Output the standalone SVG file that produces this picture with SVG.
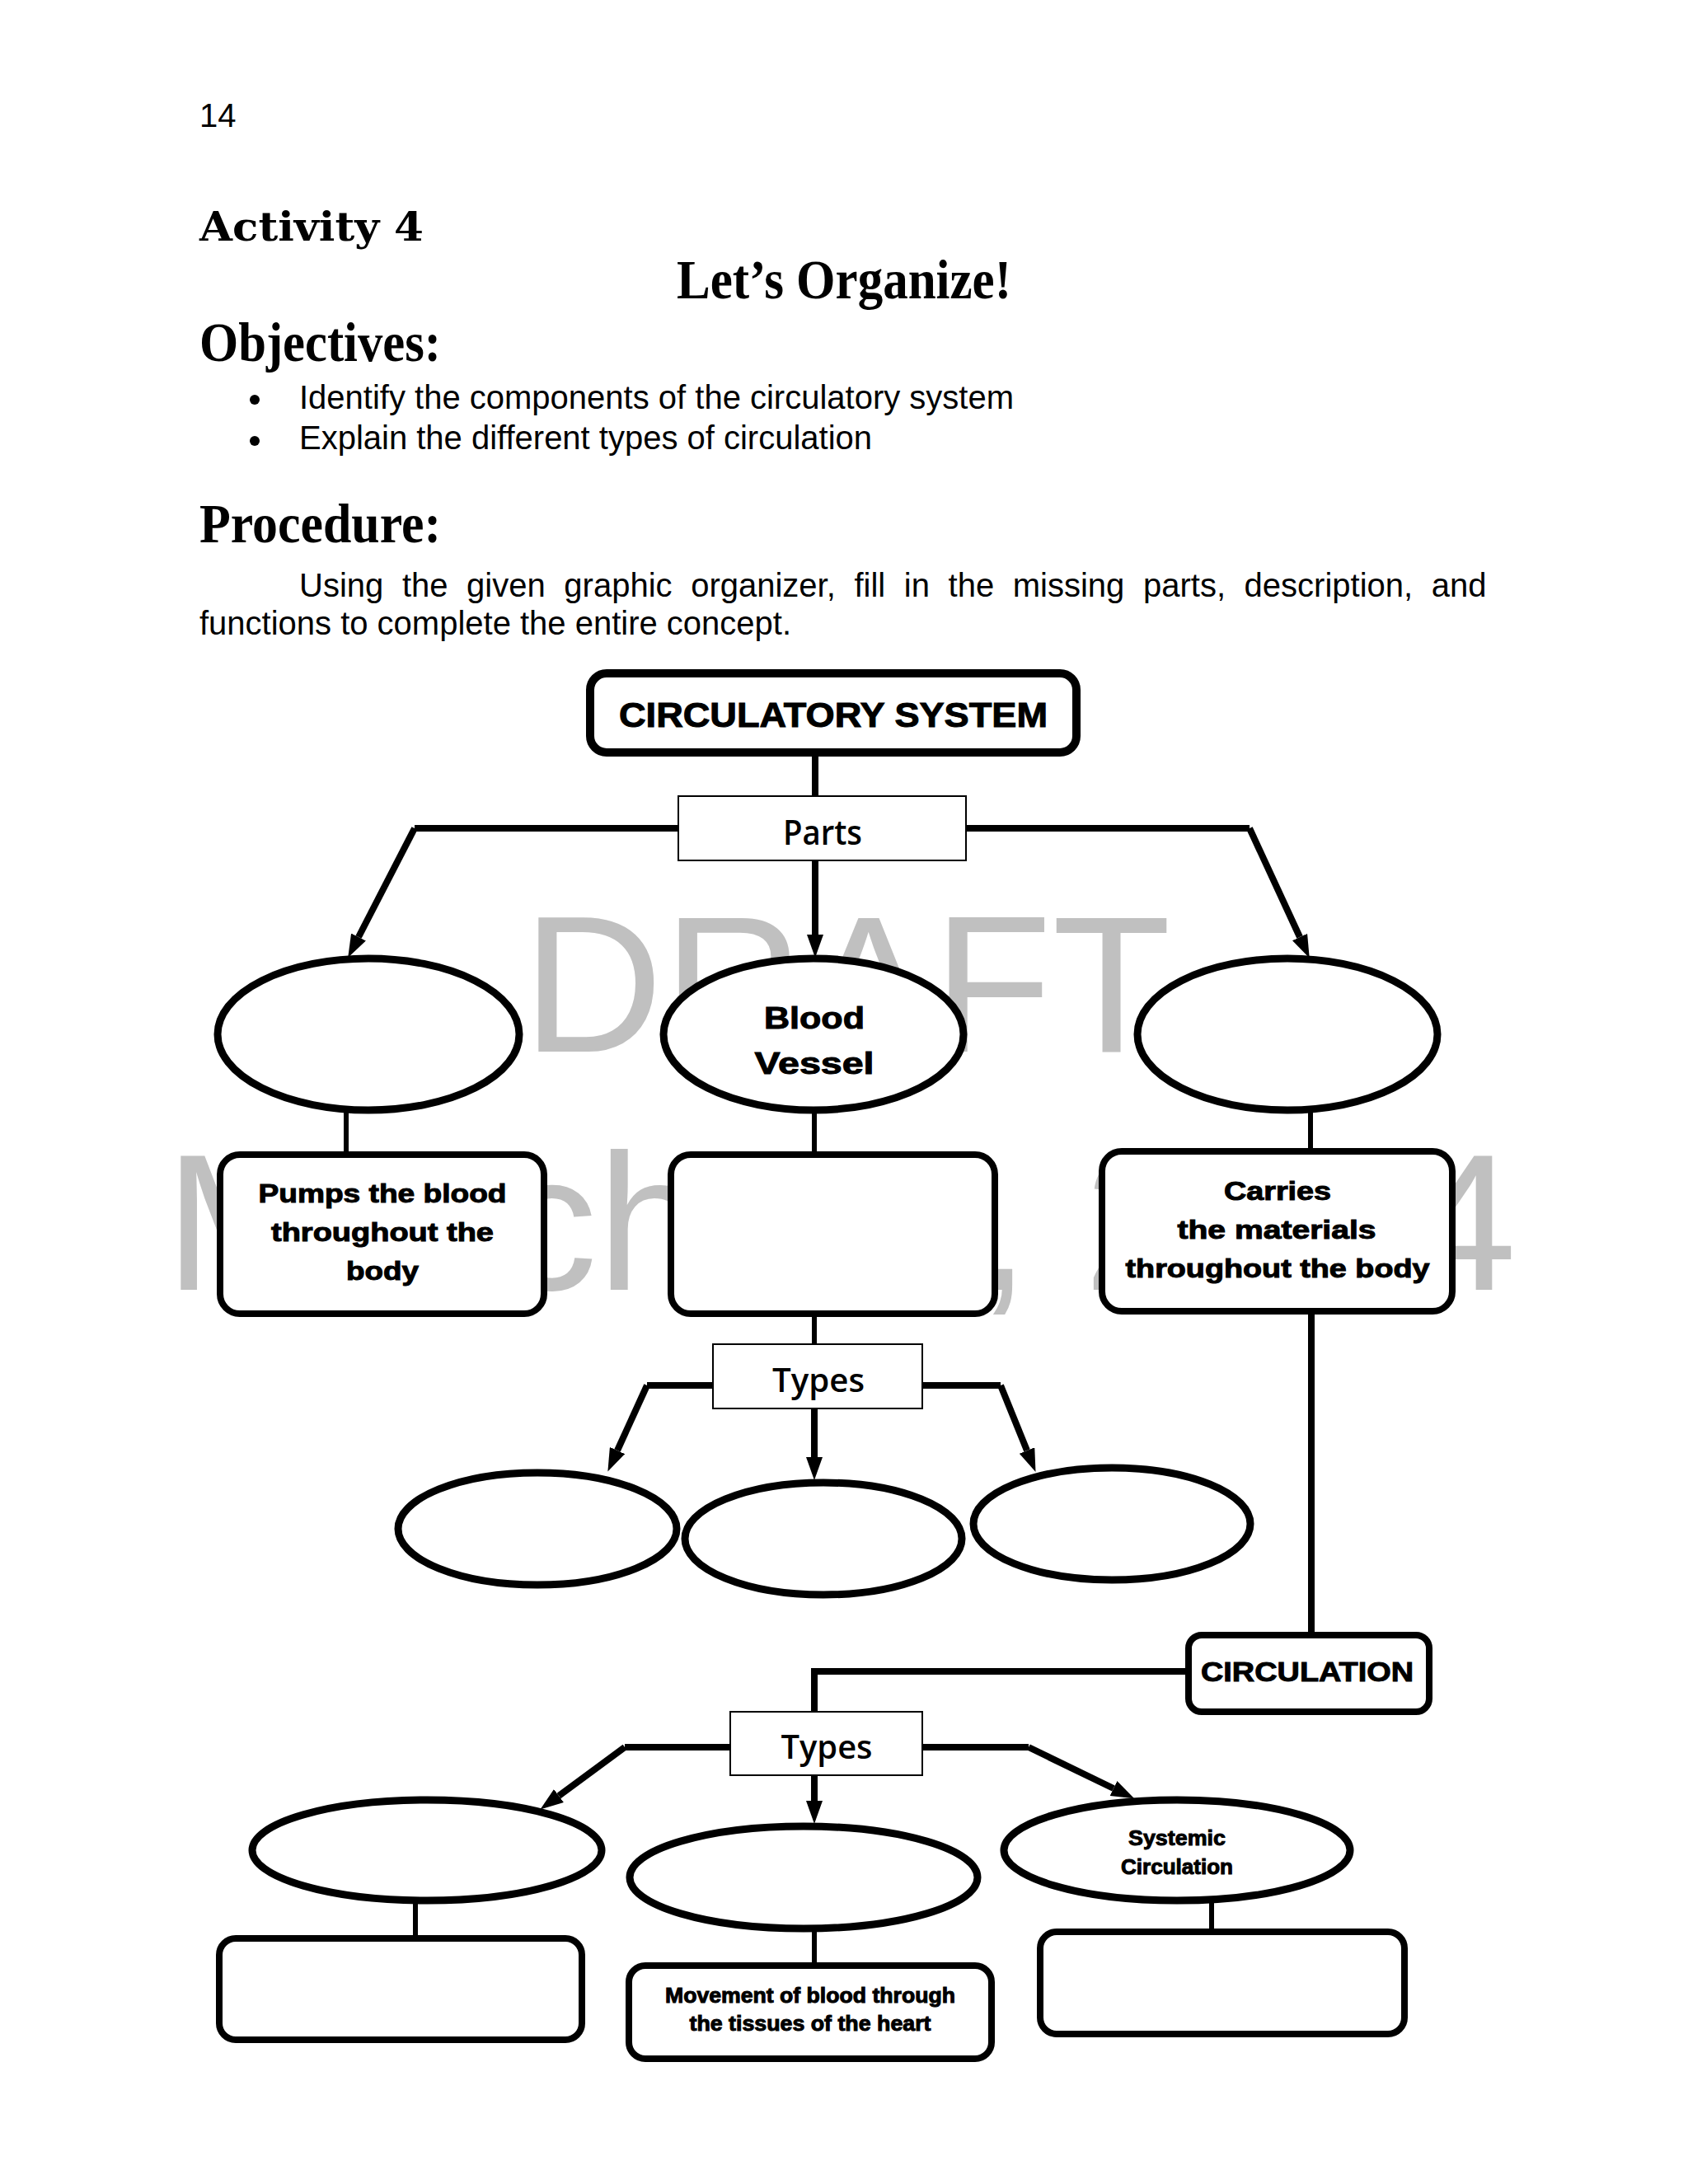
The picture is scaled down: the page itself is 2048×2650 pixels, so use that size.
<svg xmlns="http://www.w3.org/2000/svg" width="2048" height="2650" viewBox="0 0 2048 2650">
<defs>
<style>
.body{font-family:"Liberation Sans",Arial,sans-serif;font-size:40px;fill:#000}
.head{font-family:"Liberation Serif","Times New Roman",serif;font-weight:bold;font-size:68px;fill:#000}
.act{font-family:"DejaVu Serif",serif;font-weight:bold;font-size:48px;fill:#000}
.wm{font-family:"Liberation Sans",Arial,sans-serif;font-size:236px;fill:#c0c0c0}
.lbl{font-family:"Open Sans","Liberation Sans",sans-serif;font-weight:600;fill:#000;text-anchor:middle}
.blk{font-family:"Liberation Sans",Arial,sans-serif;font-weight:bold;fill:#000;text-anchor:middle;stroke:#000;stroke-width:1}
.thick{fill:#fff;stroke:#000;stroke-width:8}
.ell{fill:#fff;stroke:#000;stroke-width:9}
.thin{fill:#fff;stroke:#000;stroke-width:2}
.con{fill:none;stroke:#000;stroke-width:8}
.con2{fill:none;stroke:#000;stroke-width:6}
</style>
<marker id="ah" viewBox="0 0 28 20" refX="0" refY="10" markerWidth="28" markerHeight="20" markerUnits="userSpaceOnUse" orient="auto">
<path d="M0,0 L28,10 L0,20 Z" fill="#000"/>
</marker>
</defs>
<rect width="2048" height="2650" fill="#fff"/>

<g id="page-text">
<text class="body" x="242" y="154" font-size="30">14</text>
<text class="act" x="242" y="292" textLength="272" lengthAdjust="spacingAndGlyphs">Activity 4</text>
<text class="head" x="821" y="362" textLength="406" lengthAdjust="spacingAndGlyphs">Let’s Organize!</text>
<text class="head" x="242" y="438" textLength="293" lengthAdjust="spacingAndGlyphs">Objectives:</text>
<circle cx="309" cy="485" r="6" fill="#000"/>
<circle cx="309" cy="535" r="6" fill="#000"/>
<text class="body" x="363" y="496" textLength="867" lengthAdjust="spacing">Identify the components of the circulatory system</text>
<text class="body" x="363" y="545" textLength="695" lengthAdjust="spacing">Explain the different types of circulation</text>
<text class="head" x="242" y="658" textLength="293" lengthAdjust="spacingAndGlyphs">Procedure:</text>
<text class="body" x="363" y="724" word-spacing="11.5">Using the given graphic organizer, fill in the missing parts, description, and</text>
<text class="body" x="242" y="770" textLength="718" lengthAdjust="spacing">functions to complete the entire concept.</text>
</g>

<g id="watermark">
<text class="wm" x="634" y="1276">DRAFT</text>
<text class="wm" x="200" y="1565">March 24, 2024</text>
</g>

<g id="connectors">
<line class="con" x1="989" y1="918" x2="989" y2="966"/>
<line class="con" x1="503" y1="1005" x2="823" y2="1005"/>
<line class="con" x1="1172" y1="1005" x2="1516" y2="1005"/>
<line class="con" x1="503" y1="1005" x2="435" y2="1137" marker-end="url(#ah)"/>
<line class="con" x1="1516" y1="1005" x2="1577" y2="1137" marker-end="url(#ah)"/>
<line class="con" x1="989" y1="1045" x2="989" y2="1134" marker-end="url(#ah)"/>
<line class="con2" x1="420" y1="1346" x2="420" y2="1398"/>
<line class="con2" x1="988" y1="1346" x2="988" y2="1398"/>
<line class="con2" x1="1590" y1="1346" x2="1590" y2="1394"/>
<line class="con2" x1="988" y1="1596" x2="988" y2="1631"/>
<line class="con" x1="785" y1="1681" x2="865" y2="1681"/>
<line class="con" x1="1119" y1="1681" x2="1214" y2="1681"/>
<line class="con" x1="785" y1="1681" x2="749" y2="1760" marker-end="url(#ah)"/>
<line class="con" x1="1214" y1="1681" x2="1246" y2="1760" marker-end="url(#ah)"/>
<line class="con" x1="988" y1="1709" x2="988" y2="1768" marker-end="url(#ah)"/>
<line class="con" x1="1591" y1="1594" x2="1591" y2="1982"/>
<polyline class="con" points="1440,2028 988,2028 988,2077"/>
<line class="con" x1="758" y1="2120" x2="886" y2="2120"/>
<line class="con" x1="1119" y1="2120" x2="1248" y2="2120"/>
<line class="con" x1="758" y1="2120" x2="678" y2="2179" marker-end="url(#ah)"/>
<line class="con" x1="1248" y1="2120" x2="1351" y2="2170" marker-end="url(#ah)"/>
<line class="con" x1="988" y1="2154" x2="988" y2="2185" marker-end="url(#ah)"/>
<line class="con2" x1="504" y1="2307" x2="504" y2="2350"/>
<line class="con2" x1="988" y1="2341" x2="988" y2="2382"/>
<line class="con2" x1="1470" y1="2307" x2="1470" y2="2342"/>
</g>

<g id="circulatory-system">
<rect x="716" y="817" width="590" height="96" rx="20" fill="#fff" stroke="#000" stroke-width="10"/>
<text class="blk" x="1011" y="882" font-size="42" stroke-width="1.6" textLength="520" lengthAdjust="spacingAndGlyphs">CIRCULATORY SYSTEM</text>
</g>
<g id="parts">
<rect class="thin" x="823" y="966" width="349" height="78"/>
<text class="lbl" x="998" y="1025" font-size="41" textLength="96" lengthAdjust="spacingAndGlyphs">Parts</text>
</g>
<g id="heart-oval"><ellipse class="ell" cx="447" cy="1255" rx="183" ry="92"/></g>
<g id="blood-vessel">
<ellipse class="ell" cx="987" cy="1255" rx="182" ry="92"/>
<text class="blk" x="988" y="1248" font-size="37" stroke-width="1.3" textLength="122" lengthAdjust="spacingAndGlyphs">Blood</text>
<text class="blk" x="988" y="1303" font-size="37" stroke-width="1.3" textLength="145" lengthAdjust="spacingAndGlyphs">Vessel</text>
</g>
<g id="blood-oval"><ellipse class="ell" cx="1562" cy="1255" rx="182" ry="92"/></g>
<g id="pumps-box">
<rect class="thick" x="267" y="1401" width="393" height="193" rx="24"/>
<text class="blk" x="464" y="1459" font-size="31" textLength="301" lengthAdjust="spacingAndGlyphs">Pumps the blood</text>
<text class="blk" x="464" y="1506" font-size="31" textLength="270" lengthAdjust="spacingAndGlyphs">throughout the</text>
<text class="blk" x="464" y="1553" font-size="31" textLength="88" lengthAdjust="spacingAndGlyphs">body</text>
</g>
<g id="vessel-box"><rect class="thick" x="814" y="1401" width="393" height="193" rx="24"/></g>
<g id="carries-box">
<rect class="thick" x="1337" y="1397" width="425" height="194" rx="24"/>
<text class="blk" x="1550" y="1456" font-size="31" textLength="130" lengthAdjust="spacingAndGlyphs">Carries</text>
<text class="blk" x="1549" y="1503" font-size="31" textLength="241" lengthAdjust="spacingAndGlyphs">the materials</text>
<text class="blk" x="1550" y="1550" font-size="31" textLength="369" lengthAdjust="spacingAndGlyphs">throughout the body</text>
</g>
<g id="types-1">
<rect class="thin" x="865" y="1631" width="254" height="78"/>
<text class="lbl" x="993" y="1689" font-size="40" textLength="112" lengthAdjust="spacingAndGlyphs">Types</text>
</g>
<g id="vessel-type-1"><ellipse class="ell" cx="652" cy="1855" rx="169" ry="68"/></g>
<g id="vessel-type-2"><ellipse class="ell" cx="999" cy="1867" rx="168" ry="68"/></g>
<g id="vessel-type-3"><ellipse class="ell" cx="1349" cy="1849" rx="168" ry="68"/></g>
<g id="circulation">
<rect class="thick" x="1442" y="1984" width="292" height="93" rx="16"/>
<text class="blk" x="1586" y="2040" font-size="34" stroke-width="1.3" textLength="258" lengthAdjust="spacingAndGlyphs">CIRCULATION</text>
</g>
<g id="types-2">
<rect class="thin" x="886" y="2077" width="233" height="77"/>
<text class="lbl" x="1003" y="2134" font-size="40" textLength="111" lengthAdjust="spacingAndGlyphs">Types</text>
</g>
<g id="circ-type-1"><ellipse class="ell" cx="518" cy="2245" rx="212" ry="61"/></g>
<g id="circ-type-2"><ellipse class="ell" cx="975" cy="2278" rx="211" ry="62"/></g>
<g id="systemic">
<ellipse class="ell" cx="1428" cy="2245" rx="210" ry="61"/>
<text class="blk" x="1428" y="2239" font-size="26" stroke-width="0.3" textLength="118" lengthAdjust="spacingAndGlyphs">Systemic</text>
<text class="blk" x="1428" y="2274" font-size="26" stroke-width="0.3" textLength="136" lengthAdjust="spacingAndGlyphs">Circulation</text>
</g>
<g id="circ-desc-1"><rect class="thick" x="266" y="2352" width="440" height="123" rx="20"/></g>
<g id="coronary-desc">
<rect class="thick" x="763" y="2385" width="440" height="113" rx="20"/>
<text class="blk" x="983" y="2430" font-size="26" stroke-width="0.4" textLength="352" lengthAdjust="spacingAndGlyphs">Movement of blood through</text>
<text class="blk" x="983" y="2464" font-size="26" stroke-width="0.4" textLength="293" lengthAdjust="spacingAndGlyphs">the tissues of the heart</text>
</g>
<g id="systemic-desc"><rect class="thick" x="1262" y="2344" width="442" height="124" rx="20"/></g>
</svg>
